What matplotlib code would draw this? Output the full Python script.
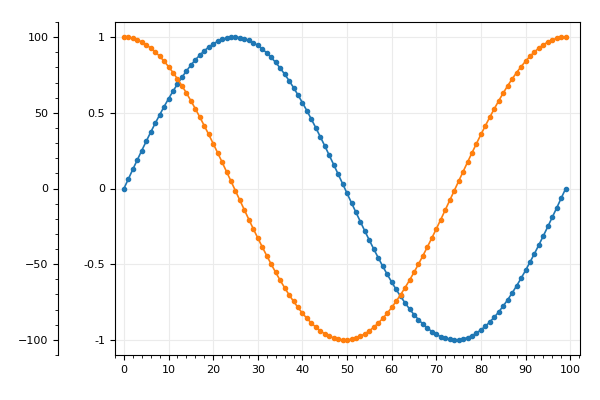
import matplotlib
matplotlib.use("Agg")
import matplotlib.pyplot as plt
from matplotlib.ticker import MultipleLocator

x = list(range(100))
sin_vals = [0,.063,.127,.189,.251,.312,.372,.430,.486,.541,.593,.643,.690,.735,.776,.815,.850,.881,.910,.934,.955,.972,.985,.994,.999,1.000,.997,.990,.979,.964,.945,.922,.896,.866,.833,.796,.756,.713,.667,.618,.567,.514,.458,.401,.342,.282,.220,.158,.095,.032,
            -.032,-.095,-.158,-.220,-.282,-.342,-.401,-.458,-.514,-.567,-.618,-.667,-.713,-.756,-.796,-.833,-.866,-.896,-.922,-.945,-.964,-.979,-.990,-.997,-1.000,-.999,-.994,-.985,-.972,-.955,-.934,-.910,-.881,-.850,-.815,-.776,-.735,-.690,-.643,-.593,-.541,-.486,-.430,-.372,-.312,-.251,-.189,-.127,-.063,0]
cos_vals = [1,.998,.992,.982,.968,.950,.928,.903,.874,.841,.805,.766,.724,.679,.631,.580,.527,.472,.415,.357,.297,.236,.174,.111,.048,-.016,-.079,-.142,-.205,-.267,-.327,-.386,-.444,-.500,-.554,-.606,-.655,-.702,-.745,-.786,-.824,-.858,-.889,-.916,-.940,-.960,-.976,-.987,-.996,-1.000,
            -1.000,-.996,-.987,-.976,-.960,-.940,-.916,-.889,-.858,-.824,-.786,-.745,-.702,-.655,-.606,-.554,-.500,-.444,-.386,-.327,-.267,-.205,-.142,-.079,-.016,.048,.111,.174,.236,.297,.357,.415,.472,.527,.580,.631,.679,.724,.766,.805,.841,.874,.903,.928,.950,.968,.982,.992,.998,1]

fig = plt.figure(figsize=(6, 4), dpi=100)
ax = fig.add_axes([115/600, 45/400, 465/600, 333/400])
ax.plot(x, sin_vals, color="#1f77b4", marker="o", ms=3, lw=1.2)
ax.plot(x, cos_vals, color="#ff7f0e", marker="o", ms=3, lw=1.2)
ax.set_xlim(-2, 102.2)
ax.set_ylim(-1.1, 1.1)
ax.set_xticks(range(0, 101, 10))
ax.xaxis.set_minor_locator(MultipleLocator(2))
ax.set_yticks([-1, -0.5, 0, 0.5, 1])
ax.set_yticklabels(["-1", "-0.5", "0", "0.5", "1"])
ax.grid(True, color="#ebebeb", lw=0.8)
ax.tick_params(labelsize=8)

ax2 = ax.twinx()
ax2.set_ylim(-110, 110)
ax2.yaxis.set_ticks_position("left")
ax2.yaxis.set_label_position("left")
ax2.spines["left"].set_position(("outward", 41))
ax2.spines["right"].set_visible(False)
ax2.set_yticks([-100, -50, 0, 50, 100])
ax2.yaxis.set_minor_locator(MultipleLocator(10))
ax2.tick_params(labelsize=8)
for s in ["top", "bottom"]:
    ax2.spines[s].set_visible(False)

fig.savefig("out.png", dpi=100)
